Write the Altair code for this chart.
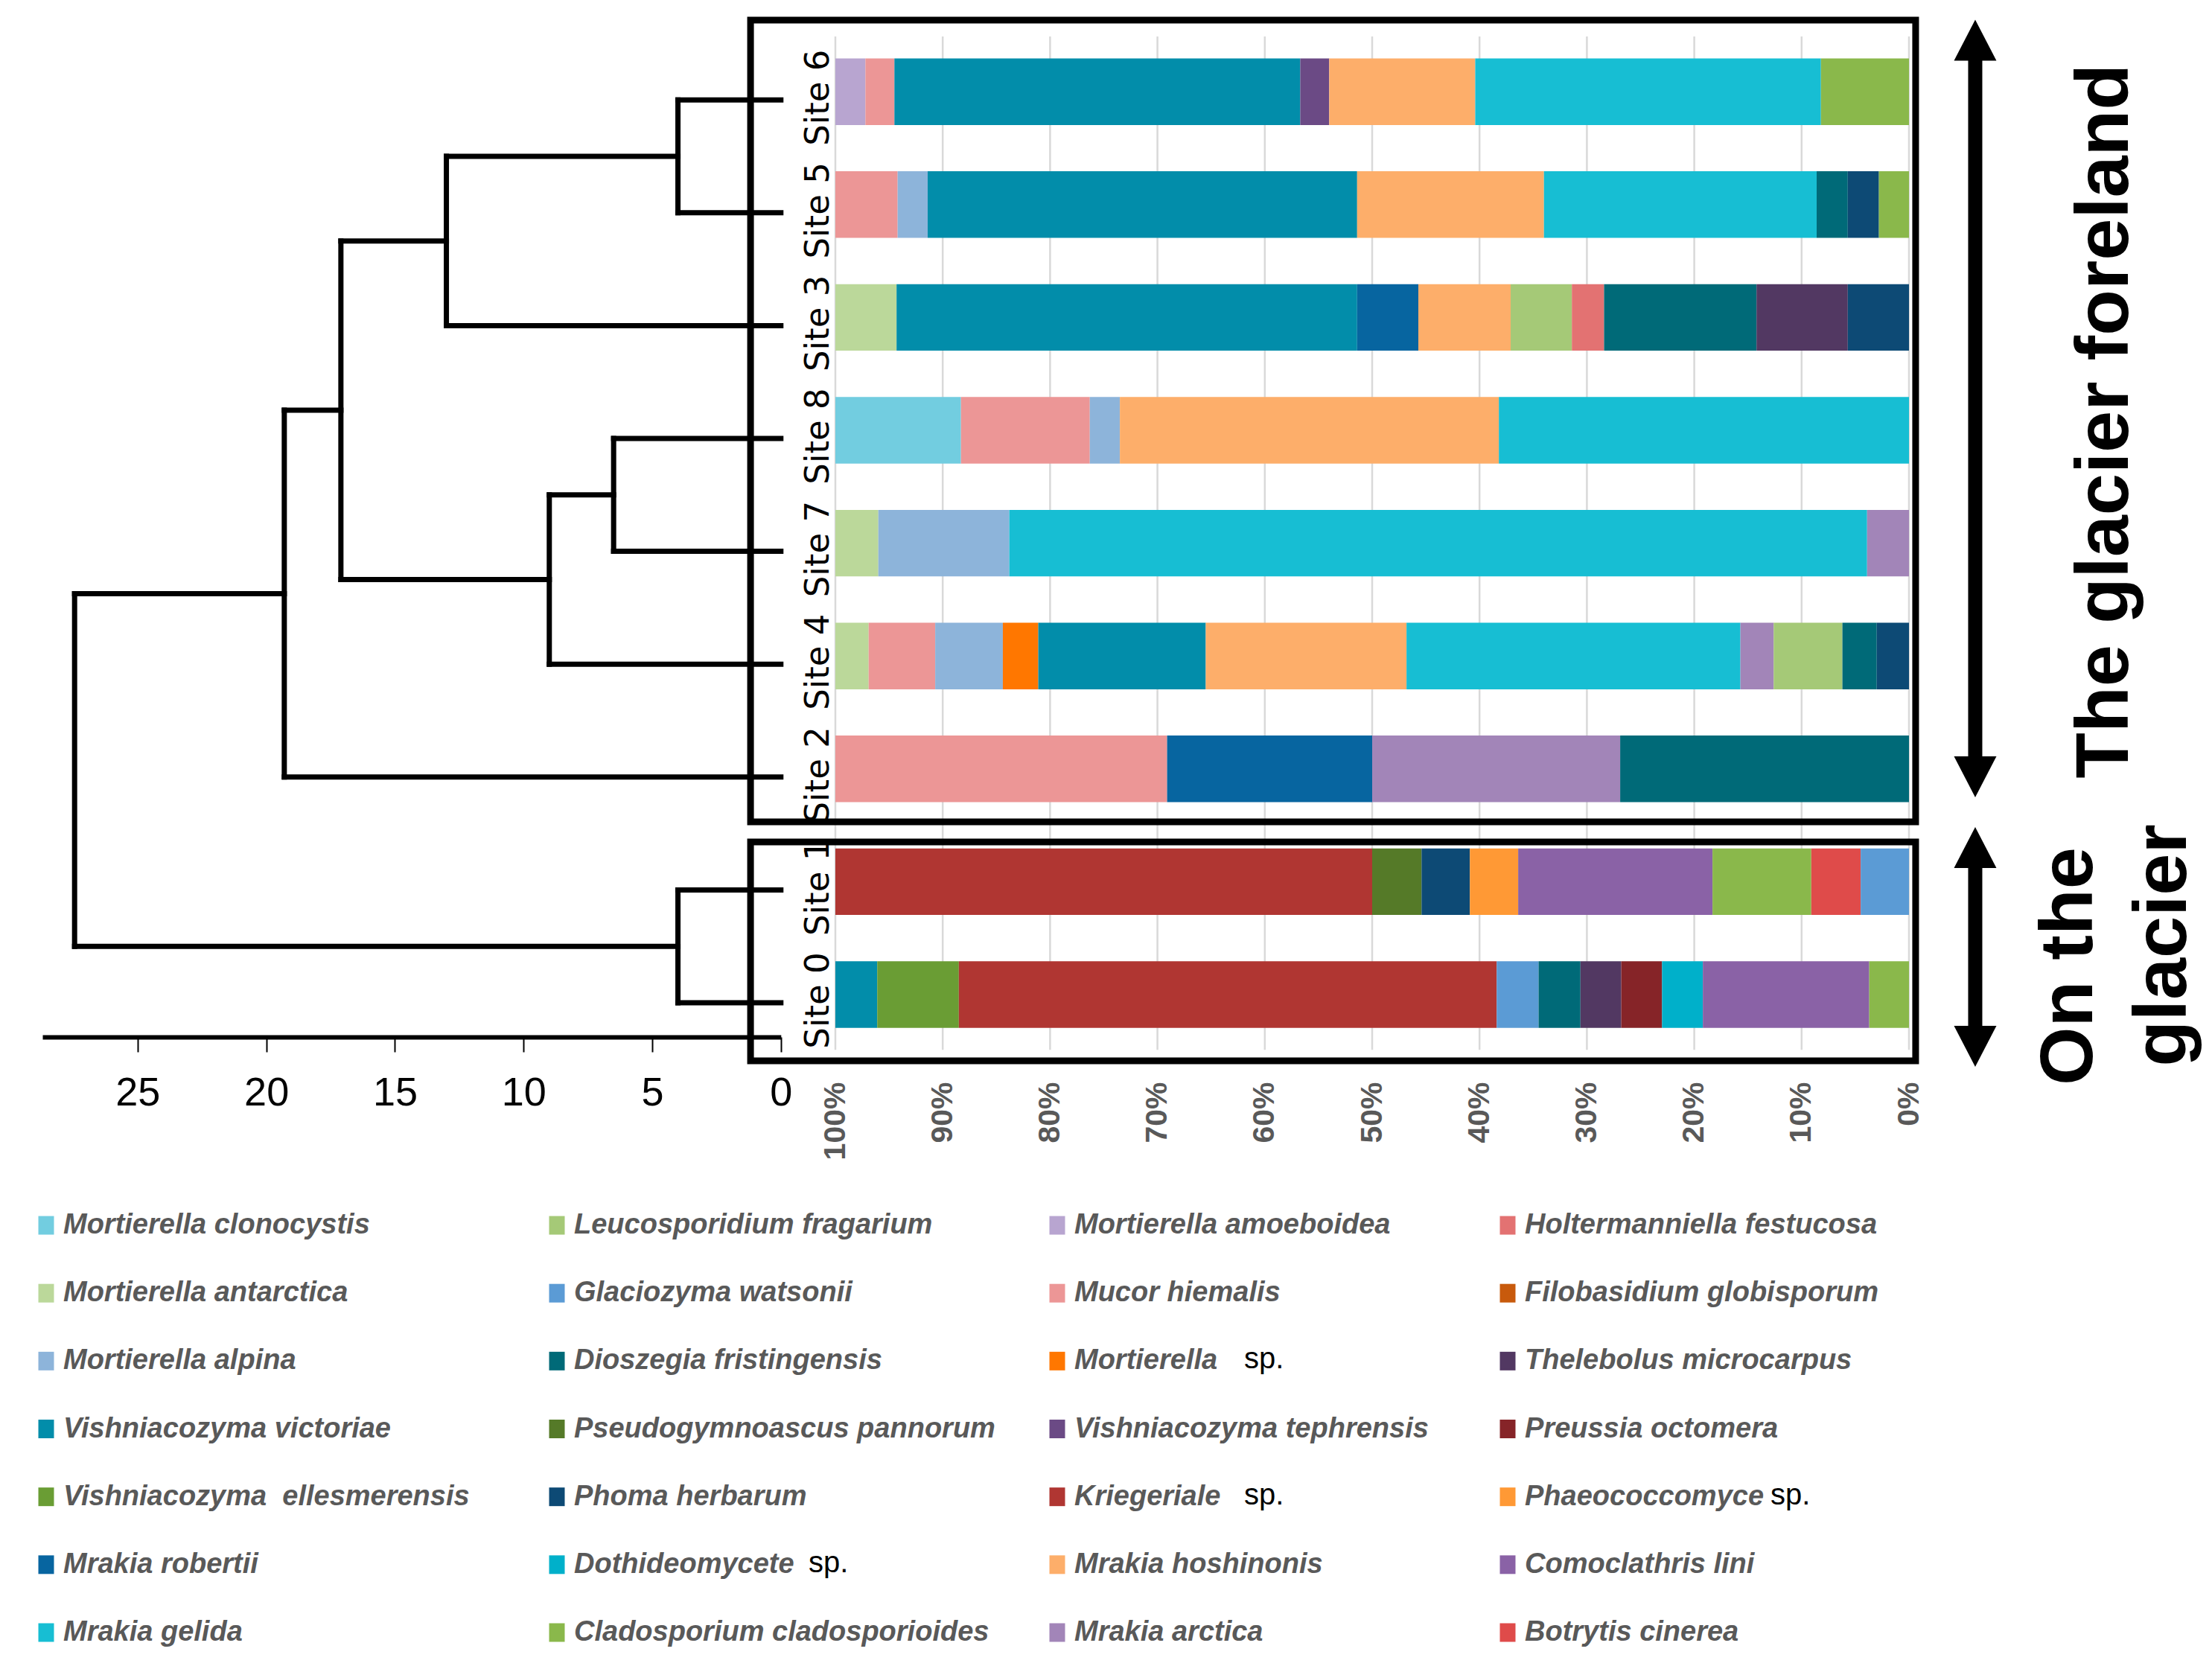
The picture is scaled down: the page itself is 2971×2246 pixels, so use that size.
import altair as alt
import pandas as pd

# ---------------- data ----------------
SITES = ["Site 6", "Site 5", "Site 3", "Site 8", "Site 7", "Site 4", "Site 2", "Site 1", "Site 0"]

TAXA = [
    "Mortierella clonocystis", "Mortierella antarctica", "Mortierella alpina",
    "Vishniacozyma victoriae", "Vishniacozyma ellesmerensis", "Mrakia robertii", "Mrakia gelida",
    "Leucosporidium fragarium", "Glaciozyma watsonii", "Dioszegia fristingensis",
    "Pseudogymnoascus pannorum", "Phoma herbarum", "Dothideomycetes sp.", "Cladosporium cladosporioides",
    "Mortierella amoeboidea", "Mucor hiemalis", "Mortierella sp.", "Vishniacozyma tephrensis",
    "Kriegeriales sp.", "Mrakia hoshinonis", "Mrakia arctica",
    "Holtermanniella festucosa", "Filobasidium globisporum", "Thelebolus microcarpus",
    "Preussia octomera", "Phaeococcomyces sp.", "Comoclathris lini", "Botrytis cinerea",
]
TAXON_COLORS = [
    "#72CDE0", "#BBD89A", "#8DB4DA", "#028DAA", "#6A9D34", "#0765A0", "#17BED3",
    "#A5C977", "#5B9BD5", "#006A78", "#557A28", "#0D4A75", "#00B0CA", "#8AB84B",
    "#B8A5D0", "#EC9696", "#FF7700", "#6B4A85", "#B03632", "#FDAE6A", "#A285B8",
    "#E37272", "#C85A0C", "#523862", "#862428", "#FF9935", "#8A62A6", "#DF4B4A",
]
LEGEND_NAMES = [
    "Mortierella clonocystis", "Mortierella antarctica", "Mortierella alpina",
    "Vishniacozyma victoriae", "Vishniacozyma\u00a0 ellesmerensis", "Mrakia robertii", "Mrakia gelida",
    "Leucosporidium fragarium", "Glaciozyma watsonii", "Dioszegia fristingensis",
    "Pseudogymnoascus pannorum", "Phoma herbarum", "Dothideomycete", "Cladosporium cladosporioides",
    "Mortierella amoeboidea", "Mucor hiemalis", "Mortierella", "Vishniacozyma tephrensis",
    "Kriegeriale", "Mrakia hoshinonis", "Mrakia arctica",
    "Holtermanniella festucosa", "Filobasidium globisporum", "Thelebolus microcarpus",
    "Preussia octomera", "Phaeococcomyce", "Comoclathris lini", "Botrytis cinerea",
]

SITE6_TAXA = ["Mortierella amoeboidea", "Mucor hiemalis", "Vishniacozyma victoriae", "Vishniacozyma tephrensis",
              "Mrakia hoshinonis", "Mrakia gelida", "Cladosporium cladosporioides"]
SITE6_PCT = [2.8, 2.7, 37.8, 2.7, 13.6, 32.2, 8.2]
SITE5_TAXA = ["Mucor hiemalis", "Mortierella alpina", "Vishniacozyma victoriae", "Mrakia hoshinonis",
              "Mrakia gelida", "Dioszegia fristingensis", "Phoma herbarum", "Cladosporium cladosporioides"]
SITE5_PCT = [5.8, 2.8, 40.0, 17.4, 25.4, 2.9, 2.9, 2.8]
SITE3_TAXA = ["Mortierella antarctica", "Vishniacozyma victoriae", "Mrakia robertii", "Mrakia hoshinonis",
              "Leucosporidium fragarium", "Holtermanniella festucosa", "Dioszegia fristingensis",
              "Thelebolus microcarpus", "Phoma herbarum"]
SITE3_PCT = [5.7, 42.9, 5.7, 8.6, 5.7, 3.0, 14.2, 8.5, 5.7]
SITE8_TAXA = ["Mortierella clonocystis", "Mucor hiemalis", "Mortierella alpina", "Mrakia hoshinonis", "Mrakia gelida"]
SITE8_PCT = [11.7, 12.0, 2.8, 35.3, 38.2]
SITE7_TAXA = ["Mortierella antarctica", "Mortierella alpina", "Mrakia gelida", "Mrakia arctica"]
SITE7_PCT = [4.0, 12.2, 79.9, 3.9]
SITE4_TAXA = ["Mortierella antarctica", "Mucor hiemalis", "Mortierella alpina", "Mortierella sp.",
              "Vishniacozyma victoriae", "Mrakia hoshinonis", "Mrakia gelida", "Mrakia arctica",
              "Leucosporidium fragarium", "Dioszegia fristingensis", "Phoma herbarum"]
SITE4_PCT = [3.1, 6.2, 6.3, 3.3, 15.6, 18.7, 31.1, 3.1, 6.4, 3.2, 3.0]
SITE2_TAXA = ["Mucor hiemalis", "Mrakia robertii", "Mrakia arctica", "Dioszegia fristingensis"]
SITE2_PCT = [30.9, 19.1, 23.1, 26.9]
SITE1_TAXA = ["Kriegeriales sp.", "Pseudogymnoascus pannorum", "Phoma herbarum", "Phaeococcomyces sp.",
              "Comoclathris lini", "Cladosporium cladosporioides", "Botrytis cinerea", "Glaciozyma watsonii"]
SITE1_PCT = [50.0, 4.6, 4.5, 4.5, 18.1, 9.2, 4.6, 4.5]
SITE0_TAXA = ["Vishniacozyma victoriae", "Vishniacozyma ellesmerensis", "Kriegeriales sp.", "Glaciozyma watsonii",
              "Dioszegia fristingensis", "Thelebolus microcarpus", "Preussia octomera", "Dothideomycetes sp.",
              "Comoclathris lini", "Cladosporium cladosporioides"]
SITE0_PCT = [3.9, 7.6, 50.1, 3.9, 3.9, 3.8, 3.8, 3.8, 15.5, 3.7]

# dendrogram: (child a, child b, merge height); ints refer to earlier merges
MERGES = [
    ("Site 6", "Site 5", 4.0),
    (0, "Site 3", 13.0),
    ("Site 8", "Site 7", 6.5),
    (2, "Site 4", 9.0),
    (1, 3, 17.1),
    (4, "Site 2", 19.3),
    ("Site 1", "Site 0", 4.0),
    (5, 6, 27.45),
]
DENDRO_TICKS = [0, 5, 10, 15, 20, 25]
PCT_TICKS = [0, 10, 20, 30, 40, 50, 60, 70, 80, 90, 100]

GROUPS = ["The glacier foreland", "On the glacier"]

# ---------------- tables ----------------
comp = {
    "Site 6": (SITE6_TAXA, SITE6_PCT), "Site 5": (SITE5_TAXA, SITE5_PCT),
    "Site 3": (SITE3_TAXA, SITE3_PCT), "Site 8": (SITE8_TAXA, SITE8_PCT),
    "Site 7": (SITE7_TAXA, SITE7_PCT), "Site 4": (SITE4_TAXA, SITE4_PCT),
    "Site 2": (SITE2_TAXA, SITE2_PCT), "Site 1": (SITE1_TAXA, SITE1_PCT),
    "Site 0": (SITE0_TAXA, SITE0_PCT),
}
rows = []
for s in SITES:
    taxa, pct = comp[s]
    cum = 0.0
    for t, p in zip(taxa, pct):
        rows.append({"site": s, "taxon": t, "start": 100 - cum, "end": 100 - cum - p, "pct": p})
        cum += p
bars_df = pd.DataFrame(rows)

# dendrogram segments
pos = {s: float(i) for i, s in enumerate(SITES)}
hgt = {s: 0.0 for s in SITES}
segs = []
for k, (a, b, h) in enumerate(MERGES):
    pa, pb = pos[a], pos[b]
    segs.append({"x": h, "x2": h, "y": pa, "y2": pb})
    segs.append({"x": hgt[a], "x2": h, "y": pa, "y2": pa})
    segs.append({"x": hgt[b], "x2": h, "y": pb, "y2": pb})
    pos[k] = (pa + pb) / 2
    hgt[k] = h
den_df = pd.DataFrame(segs)

leg_df = pd.DataFrame({
    "taxon": TAXA,
    "label": LEGEND_NAMES,
    "col": [i // 7 for i in range(len(TAXA))],
    "row": [i % 7 for i in range(len(TAXA))],
})
grid_df = pd.DataFrame({"p": PCT_TICKS})

# ---------------- layout (scale ranges, pixels) ----------------
W, H = 2955, 2230
x_pct = alt.Scale(domain=[100, 0], range=[1114, 2556])
y_slot = alt.Scale(domain=[0, 8], range=[115.2, 1328.0])
y_band = alt.Scale(domain=SITES, range=[39.4, 1403.8], paddingInner=0.41, paddingOuter=0.205)
x_den = alt.Scale(domain=[0, 28.7], range=[1040.8, 49.0])
y_den = alt.Scale(domain=[0, 8], range=[126.2, 1339.0])
x_leg = alt.Scale(domain=[0, 1, 2, 3], range=[54, 740, 1412, 2017])
y_leg = alt.Scale(domain=[0, 6], range=[1638, 2185])
cscale = alt.Scale(domain=TAXA, range=TAXON_COLORS)

# frames / arrows / captions in scale units (percent, site slot)
frame_df = pd.DataFrame({
    "g": GROUPS, "x0": [107.9, 107.9], "x1": [-0.62, -0.62],
    "y0": [-0.635, 6.648], "y1": [6.47, 8.587],
})
arrow_df = pd.DataFrame({"g": GROUPS, "top": [-0.638, 6.516], "bot": [6.252, 8.640]})
arrow_df["s0"] = arrow_df["top"] + 0.25
arrow_df["s1"] = arrow_df["bot"] - 0.25
ARROW_X = -6.17
cap_df = pd.DataFrame({
    "text": ["The glacier foreland", "On the", "glacier"],
    "x": [-20.39, -17.06, -25.8],
    "y": [2.92, 7.75, 7.565],
})

# ---------------- layers ----------------
grid = alt.Chart(grid_df).mark_rule(color="#d9d9d9", strokeWidth=2.5).encode(
    x=alt.X("p:Q", scale=x_pct, axis=None),
    y=alt.YDatum(-0.49, type="quantitative", scale=y_slot, axis=None),
    y2=alt.Y2Datum(8.49),
)

pct_axis = alt.Axis(
    orient="bottom", values=PCT_TICKS, labelExpr="datum.value + '%'", labelAngle=270,
    labelAlign="right", labelBaseline="middle", labelFont="Liberation Sans", labelFontSize=41,
    labelFontWeight="bold", labelColor="#595959", ticks=False, tickSize=0, domain=False,
    grid=False, labelPadding=0, offset=-785, title=None, labelFlush=False, labelOverlap=False,
)
site_axis = alt.Axis(
    orient="left", offset=-1104, labelAngle=270, labelAlign="center", labelBaseline="alphabetic",
    labelFont="DejaVu Sans", labelFontSize=45, labelColor="black", ticks=False, tickSize=0,
    domain=False, grid=False, labelPadding=0, labelOffset=8, title=None,
)
bars = alt.Chart(bars_df).mark_bar().encode(
    x=alt.X("start:Q", scale=x_pct, axis=pct_axis),
    x2="end:Q",
    y=alt.Y("site:N", scale=y_band, axis=site_axis),
    color=alt.Color("taxon:N", scale=cscale, legend=None),
)

frames = alt.Chart(frame_df).mark_rect(fill="transparent", stroke="black", strokeWidth=9).encode(
    x=alt.X("x0:Q", scale=x_pct, axis=None), x2="x1:Q",
    y=alt.Y("y0:Q", scale=y_slot, axis=None), y2="y1:Q",
)

den_axis = alt.Axis(
    orient="bottom", values=DENDRO_TICKS, format="d", labelFont="Liberation Sans", labelFontSize=54,
    labelColor="black", tickColor="black", tickWidth=2, tickSize=20, domainColor="black",
    domainWidth=6, labelPadding=28, offset=-845, grid=False, title=None, labelFlush=False,
    labelAngle=0, labelBaseline="top", labelAlign="center",
)
dendro = alt.Chart(den_df).mark_rule(color="black", strokeWidth=7, strokeCap="square").encode(
    x=alt.X("x:Q", scale=x_den, axis=den_axis), x2="x2:Q",
    y=alt.Y("y:Q", scale=y_den, axis=None), y2="y2:Q",
)

shafts = alt.Chart(arrow_df).mark_rule(color="black", strokeWidth=19).encode(
    x=alt.XDatum(ARROW_X, type="quantitative", scale=x_pct, axis=None),
    y=alt.Y("s0:Q", scale=y_slot, axis=None), y2="s1:Q",
)
head_up = alt.Chart(arrow_df).mark_point(
    shape="M0,0L1,1.93L-1,1.93Z", size=3249, filled=True, color="black", opacity=1
).encode(
    x=alt.XDatum(ARROW_X, type="quantitative", scale=x_pct, axis=None),
    y=alt.Y("top:Q", scale=y_slot, axis=None),
)
head_down = alt.Chart(arrow_df).mark_point(
    shape="M0,0L1,-1.93L-1,-1.93Z", size=3249, filled=True, color="black", opacity=1
).encode(
    x=alt.XDatum(ARROW_X, type="quantitative", scale=x_pct, axis=None),
    y=alt.Y("bot:Q", scale=y_slot, axis=None),
)

captions = alt.Chart(cap_df).mark_text(
    angle=270, align="center", baseline="alphabetic", font="Liberation Sans",
    fontWeight="bold", fontSize=101, color="black"
).encode(
    x=alt.X("x:Q", scale=x_pct, axis=None),
    y=alt.Y("y:Q", scale=y_slot, axis=None),
    text="text:N",
)

swatches = alt.Chart(leg_df).mark_point(
    shape="M-0.84,-1H0.84V1H-0.84Z", size=625, filled=True, opacity=1
).encode(
    x=alt.X("col:Q", scale=x_leg, axis=None),
    y=alt.Y("row:Q", scale=y_leg, axis=None),
    color=alt.Color("taxon:N", scale=cscale, legend=None),
)
leg_text = alt.Chart(leg_df).mark_text(
    align="left", baseline="middle", dx=23, font="Liberation Sans", fontStyle="italic",
    fontWeight="bold", fontSize=38, color="#595959"
).encode(
    x=alt.X("col:Q", scale=x_leg, axis=None),
    y=alt.Y("row:Q", scale=y_leg, axis=None),
    text="label:N",
)

SP_GAP = {"Dothideomycetes sp.": 338, "Mortierella sp.": 251, "Kriegeriales sp.": 251, "Phaeococcomyces sp.": 353}
sp_layers = []
for taxon, gap in SP_GAP.items():
    sp_layers.append(
        alt.Chart(leg_df).transform_filter(alt.datum.taxon == taxon).mark_text(
            align="left", baseline="middle", dx=gap, dy=-2, font="Liberation Sans",
            fontSize=40, color="black", text="sp."
        ).encode(
            x=alt.X("col:Q", scale=x_leg, axis=None),
            y=alt.Y("row:Q", scale=y_leg, axis=None),
        )
    )

chart = alt.layer(
    grid, bars, frames, dendro, shafts, head_up, head_down, captions, swatches, leg_text, *sp_layers
).resolve_scale(
    x="independent", y="independent"
).properties(
    width=W, height=H, autosize=alt.AutoSizeParams(type="none"), padding=0, background="white"
).configure_view(stroke=None)

chart.save("out.html", embed_options={"renderer": "svg", "actions": False})
